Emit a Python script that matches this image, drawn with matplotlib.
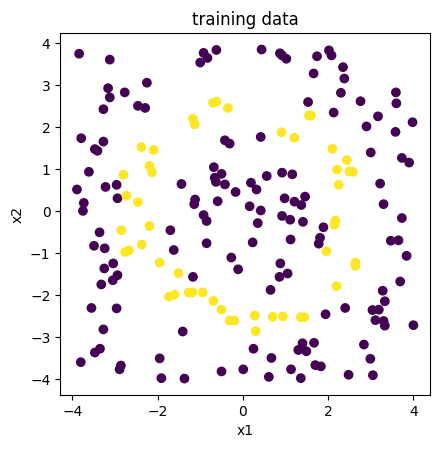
import numpy as np
import matplotlib.pyplot as plt

# class 0 (purple) points
x0 = [-3.84, -3.12, -0.92, -0.83, -1.00, -0.62, -2.25, -3.16, -3.12, -2.77, -3.27, -2.46, -2.29,
      -3.79, -3.27, -3.47, -3.41, -0.42, -0.31, -3.61, -3.89, -3.22, -2.96, -2.94, -3.73, -1.44,
      -0.68, -0.50, -0.66, -0.63, -0.42, -0.17, -1.12, -1.14, -0.59,
      0.44, 0.87, 0.92, 1.02, 1.74, 2.02, 2.08, 2.35, 2.38, 1.66, 2.30, 3.59, 3.60, 1.53, 2.76,
      2.13, 3.17, 3.98, 2.90, 3.58, 0.42, 3.00, 3.73, 3.90, 0.19, 0.32, 0.56, 0.92, 1.16, 3.22,
      0.98, 1.21, 1.37, 1.46, 3.30, 0.16, 0.42,
      -3.75, -0.92, -0.85, -3.36, -1.70, -3.49, -3.24, -1.62, -0.85, -0.27, -0.11, -3.04, -3.25,
      -2.94, -3.05, -3.32, -1.17, -3.55, -2.96, -3.27, -1.41, -3.35, -3.47, -3.80, -2.86, -2.89,
      -1.95, -1.91, -1.37, -0.50, 0.01,
      0.92, 1.11, 1.41, 0.35, 1.89, 3.73, 0.23, 1.12, 1.81, 1.78, 3.47, 3.65, 3.84, 0.88, 1.05,
      0.86, 0.65, 3.69, 3.28, 3.33, 2.40, 3.04, 3.19, 1.94, 3.11, 3.30, 3.33, 4.00, 0.25, 1.40,
      1.67, 1.30, 1.49, 2.84, 0.67, 2.99, 1.70, 1.83, 1.13, 0.61, 1.36, 2.48, 3.05]
y0 = [3.75, 3.61, 3.77, 3.65, 3.54, 3.84, 3.06, 2.93, 2.71, 2.83, 2.43, 2.51, 2.46,
      1.74, 1.66, 1.48, 1.44, 1.69, 1.61, 0.94, 0.52, 0.58, 0.63, 0.31, 0.20, 0.65,
      1.05, 0.89, 0.80, 0.70, 0.64, 0.46, 0.28, 0.17, 0.24,
      3.85, 3.76, 3.71, 3.63, 3.69, 3.83, 3.71, 3.43, 3.16, 3.28, 2.82, 2.83, 2.57, 2.60, 2.62,
      2.35, 2.26, 2.12, 2.02, 1.89, 1.77, 1.40, 1.27, 1.16, 0.68, 0.52, 0.84, 0.92, 0.88, 0.66,
      0.31, 0.23, 0.15, 0.35, 0.17, 0.12, 0.02,
      0.01, -0.09, -0.23, -0.50, -0.45, -0.82, -0.88, -0.92, -0.76, -1.10, -1.38, -1.24, -1.36,
      -1.52, -1.64, -1.74, -1.56, -2.30, -2.31, -2.81, -2.86, -3.27, -3.36, -3.59, -3.67, -3.76,
      -3.50, -3.97, -3.98, -3.81, -3.76,
      -0.11, -0.20, -0.25, -0.28, -0.38, -0.16, -0.74, -0.67, -0.63, -0.77, -0.70, -0.69, -1.06,
      -1.24, -1.48, -1.56, -1.87, -1.67, -1.89, -2.14, -2.30, -2.35, -2.34, -2.45, -2.59, -2.61,
      -2.72, -2.71, -3.27, -3.14, -3.13, -3.30, -3.33, -3.17, -3.49, -3.51, -3.66, -3.69, -3.76,
      -3.94, -3.97, -3.89, -3.90]

# class 1 (yellow) points
x1 = [-0.70, -0.62, -0.35, -1.17, -1.13, -2.38, -2.09, -2.19, -2.13, -2.80, -2.73, -2.46,
      1.55, 1.60, 0.91, 1.21, 2.10, 2.44, 2.21, 2.50, 2.58, 2.25,
      -2.85, -2.19, -2.37, -2.76, -2.67, -1.95, -1.51, -1.73, -1.60, -1.27, -1.18, -0.94,
      -0.69, -0.50, -0.31, -0.20,
      2.17, 2.15, 1.96, 2.64, 2.64, 2.20, 0.28, 0.70, 0.94, 1.36, 1.44, 0.30]
y1 = [2.58, 2.61, 2.46, 2.20, 2.07, 1.53, 1.46, 1.08, 0.93, 0.87, 0.37, 0.22,
      2.28, 2.28, 1.88, 1.75, 1.49, 1.22, 0.99, 0.95, 0.94, 0.63,
      -0.45, -0.35, -0.79, -0.97, -0.93, -1.22, -1.47, -2.03, -1.98, -1.93, -1.93, -1.93,
      -2.13, -2.34, -2.60, -2.60,
      -0.22, -0.32, -0.95, -1.22, -1.30, -1.78, -2.48, -2.51, -2.50, -2.52, -2.52, -2.85]

X1 = np.array(x0 + x1)
X2 = np.array(y0 + y1)
labels = np.array([0] * len(x0) + [1] * len(x1))

plt.figure(figsize=(4.39, 4.53), dpi=100)
plt.scatter(X1, X2, c=labels)
plt.title("training data")
plt.xlabel("x1")
plt.ylabel("x2")
plt.subplots_adjust(left=0.137, right=0.98, top=0.927, bottom=0.128)
plt.savefig("out.png")
